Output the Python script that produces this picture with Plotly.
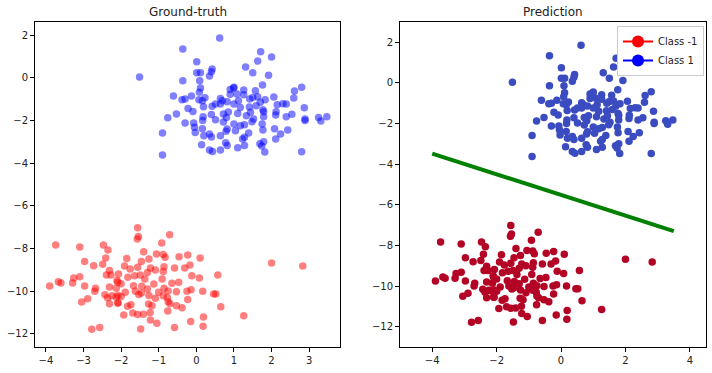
import plotly.graph_objects as go

# ---------------- data ----------------
blue_x = [0.62, -0.36, 0.01, -1.51, -0.36, 0.01, 0.11, 0.42, 0.40, 0.35, 0.09, 0.11, 0.08, -0.61, -0.38, -0.30,
          -0.13, 0.07, 0.23, 0.16, -0.22, -0.09, 0.19, 0.42, 0.51, 0.64, 0.69, 0.82, 0.90, 1.00, -0.53, -0.76,
          -0.30, -0.07, 0.18, 0.17, 0.40, 0.51, 0.72, 0.80, 0.85, -0.05, 0.16, -0.90, -0.03, 0.35, 0.79, 0.40,
          0.78, 0.82, 0.14, 0.35, 0.43, 0.64, -0.90,
          1.71, 2.00, 1.63, 1.31, 1.50, 1.92, 1.76, 2.61, 2.80, 0.99, 1.26, 1.57, 1.50, 1.63, 1.83, 2.06, 2.59,
          1.00, 1.17, 1.41, 1.59, 1.77, 2.15, 2.30, 2.39, 2.12, 2.87, 1.10, 1.33, 1.52, 1.79, 2.11, 2.39, 2.54,
          2.89, 2.89, 3.25, 3.31, 3.47, 1.00, 1.28, 1.17, 1.77, 2.08, 2.24, 2.43, 2.11, 1.39, 1.28, 1.23, 1.28,
          1.10, 1.69, 1.79, 1.74, 1.82, 2.80,
          1.08, 1.26, 1.42, 1.70, 1.12, 1.44, 1.79, 1.48, 1.75, 1.04,
          0.64, 0.90, 0.72, 0.82, 0.64, 0.20]
blue_y = [1.86, 1.34, 0.75, 0.03, -0.14, 0.23, 0.23, 0.41, 0.28, 0.08, -0.14, -0.48, -0.68, -0.85, -1.03, -1.00,
          -0.85, -1.03, -0.94, -1.08, -1.44, -1.58, -1.36, -1.33, -1.23, -0.97, -1.08, -1.13, -0.55, -0.45, -1.70, -1.87,
          -2.12, -2.12, -1.83, -2.00, -1.72, -1.97, -2.07, -1.86, -1.61, -2.32, -2.39, -2.59, -2.56, -2.64, -2.51, -2.78,
          -3.04, -3.17, -3.14, -3.38, -3.46, -3.38, -3.62,
          1.22, 0.97, 0.78, 0.50, 0.23, 0.12, -0.34, -0.62, -0.44, -0.48, -0.58, -0.61, -0.92, -0.89, -1.03, -0.90, -0.95,
          -1.23, -1.39, -1.37, -1.31, -1.50, -1.26, -1.22, -1.23, -1.59, -1.40, -1.67, -1.78, -1.93, -1.83, -1.75, -1.83, -1.71,
          -1.93, -2.00, -1.86, -2.03, -1.83, -2.17, -2.20, -2.25, -2.45, -2.39, -2.64, -2.45, -2.87, -2.59, -2.79, -2.87, -3.17,
          -3.28, -3.09, -3.00, -3.20, -3.48, -3.47,
          -0.76, -0.80, -1.00, -1.15, -1.08, -1.62, -1.59, -2.06, -2.17, -2.48,
          -1.23, -0.77, -1.70, -2.40, -2.72, -2.72]

red_x = [-3.74, -3.10, -2.47, -2.35, -2.97, -2.73, -2.41, -2.49, -2.31, -2.39, -2.27, -3.26, -3.10, -3.67, -3.60,
         -3.90, -3.29, -2.97, -2.68, -2.70, -2.31, -2.09, -2.13, -2.43, -2.36, -2.24, -2.13, -2.31, -2.09, -3.05,
         -2.89, -2.78, -2.57,
         -1.56, -1.54, -1.57, -0.71, -0.92, -1.40, -1.85, -1.46, -1.26, -1.06, -0.88, -0.83, -0.46, -0.23, 0.10,
         -1.91, -1.56, -1.22, -1.09, -0.86, -0.88, -0.58, -0.31, -0.17, -1.82, -1.64, -1.49, -1.30, -0.12, 0.08,
         -2.11, -2.00, -1.67, -1.45, -1.30, -0.86, -0.75, -0.65, -0.53, -0.25, -0.14, 0.17, -2.00, -2.08, -1.53,
         -1.46, -1.09, -0.77, -0.88, -2.08, -1.74, -1.83, -1.27, -1.18, -0.75, -0.70, -0.53, -0.38, -0.23, -1.93,
         -1.69, -1.56, -1.41, -1.23, -0.76, -1.22, -1.05, -0.15, 0.19, -1.48, -0.58, 0.18,
         2.00, 0.57, 0.46, 0.52, 0.65, 1.26, 2.83,
         -2.07, -1.76, -1.37, -1.13, -1.62, -1.00, -1.26, -0.91, -0.47, -1.89]
red_y = [-7.83, -7.93, -7.83, -8.07, -8.61, -8.80, -8.44, -8.74, -9.03, -9.24, -9.24, -9.38, -9.32, -9.56, -9.61,
         -9.75, -9.61, -9.75, -9.86, -10.00, -9.80, -9.58, -9.86, -10.16, -10.30, -10.21, -10.27, -10.58, -10.55, -10.50,
         -10.35, -11.78, -11.70,
         -7.02, -7.44, -7.55, -7.35, -7.74, -8.15, -8.46, -8.61, -8.49, -8.25, -8.28, -8.41, -8.38, -8.30, -8.44,
         -8.82, -8.88, -8.91, -9.00, -8.85, -9.08, -8.91, -8.91, -8.77, -9.34, -9.27, -9.24, -9.12, -9.27, -9.38,
         -9.49, -9.65, -9.74, -9.77, -9.89, -9.86, -9.99, -9.63, -10.02, -10.00, -9.93, -10.00, -10.25, -10.20, -10.15,
         -10.08, -10.33, -10.30, -10.21, -10.55, -10.63, -10.70, -10.60, -10.68, -10.49, -10.58, -10.68, -10.77, -10.39, -11.11,
         -11.02, -11.09, -11.08, -10.99, -10.92, -11.35, -11.50, -11.42, -11.20, -11.77, -11.70, -11.64,
         -8.68, -9.24, -10.13, -10.13, -10.72, -11.15, -8.82,
         -9.19, -8.96, -9.43, -9.66, -10.00, -10.05, -10.20, -9.43, -9.58, -10.05]

boundary_x = [-4.0, 3.5]
boundary_y = [-3.48, -7.3]

titles = ["Ground-truth", "Prediction"]
legend_labels = ["Class -1", "Class 1"]

W, H = 712, 373
FONT = "DejaVu Sans"

fig = go.Figure()

# Left: ground truth
fig.add_trace(go.Scatter(x=red_x, y=red_y, mode="markers", xaxis="x", yaxis="y", showlegend=False,
                         marker=dict(color="red", opacity=0.5, size=7.5, line=dict(width=0))))
fig.add_trace(go.Scatter(x=blue_x, y=blue_y, mode="markers", xaxis="x", yaxis="y", showlegend=False,
                         marker=dict(color="blue", opacity=0.5, size=7.5, line=dict(width=0))))

# Right: prediction
fig.add_trace(go.Scatter(x=red_x, y=red_y, mode="markers", xaxis="x2", yaxis="y2", showlegend=False,
                         marker=dict(color="#b40426", size=7.5, line=dict(width=0))))
fig.add_trace(go.Scatter(x=blue_x, y=blue_y, mode="markers", xaxis="x2", yaxis="y2", showlegend=False,
                         marker=dict(color="#3b4cc0", size=7.5, line=dict(width=0))))
fig.add_trace(go.Scatter(x=boundary_x, y=boundary_y, mode="lines", xaxis="x2", yaxis="y2", showlegend=False,
                         line=dict(color="green", width=4)))

# legend entries
for lab, col in zip(legend_labels, ["red", "blue"]):
    fig.add_trace(go.Scatter(x=[None], y=[None], mode="lines+markers", xaxis="x2", yaxis="y2", name=lab,
                             line=dict(color=col, width=2), marker=dict(color=col, size=12)))

axis_common = dict(showline=True, linecolor="black", linewidth=1, mirror=True, ticks="outside",
                   ticklen=4, tickcolor="black", showgrid=False, zeroline=False,
                   tickfont=dict(family=FONT, size=10, color="#222"))

fig.update_layout(
    width=W, height=H, margin=dict(l=0, r=0, t=0, b=0),
    paper_bgcolor="white", plot_bgcolor="white",
    xaxis=dict(domain=[35 / W, 340 / W], range=[-4.29, 3.82], dtick=1, anchor="y", **axis_common),
    yaxis=dict(domain=[1 - 347 / H, 1 - 22 / H], range=[-12.61, 2.61], dtick=2, anchor="x", **axis_common),
    xaxis2=dict(domain=[400 / W, 706 / W], range=[-5, 4.5], dtick=2, anchor="y2", **axis_common),
    yaxis2=dict(domain=[1 - 347 / H, 1 - 22 / H], range=[-13, 3], dtick=2, anchor="x2", **axis_common),
    legend=dict(x=704 / W, xanchor="right", y=1 - 26 / H, yanchor="top", bgcolor="white",
                bordercolor="#cccccc", borderwidth=1, font=dict(family=FONT, size=10, color="#222"),
                tracegroupgap=0),
    showlegend=True,
)

for t, (a, b) in zip(titles, [(35, 340), (400, 706)]):
    fig.add_annotation(text=t, x=(a + b) / 2 / W, y=1 - 12 / H, xref="paper", yref="paper",
                       showarrow=False, xanchor="center", yanchor="middle",
                       font=dict(family=FONT, size=12, color="#222"))

fig.write_html("out.html", config={"displayModeBar": False},
               post_script="document.body.style.margin='0';")
